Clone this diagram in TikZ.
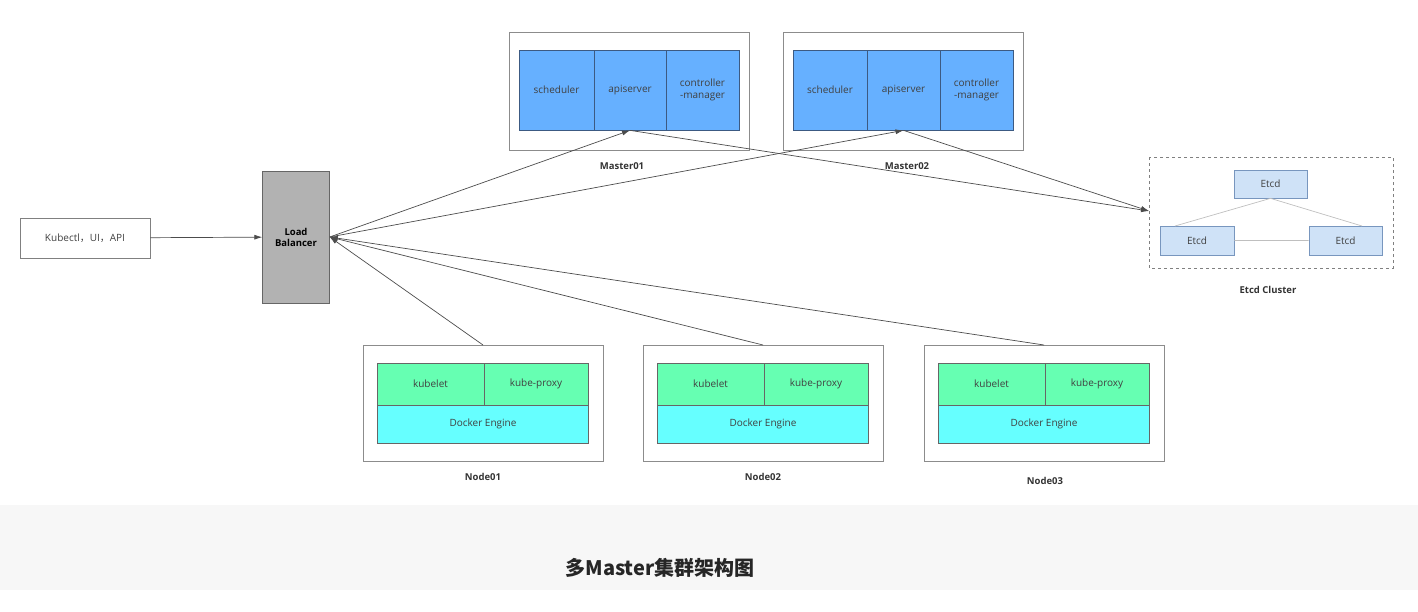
\documentclass[tikz,border=0pt]{standalone}
\usepackage{fontspec}
\setmainfont{Open Sans}
\newfontfamily\cjk{Noto Sans CJK SC}
\usetikzlibrary{arrows.meta}
\definecolor{mblue}{RGB}{102,176,255}
\definecolor{mbord}{RGB}{60,90,130}
\definecolor{ngreen}{RGB}{102,255,178}
\definecolor{ncyan}{RGB}{102,255,255}
\definecolor{efill}{RGB}{207,226,247}
\definecolor{ebord}{RGB}{120,150,190}
\begin{document}
\begin{tikzpicture}[x=1pt,y=-1pt,
  outer/.style={draw=black!45,line width=0.8pt},
  txt/.style={font=\fontsize{10}{12}\selectfont,text=black!75},
  blu/.style={txt,draw=mbord,fill=mblue,line width=0.7pt},
  grn/.style={txt,draw=black!60,fill=ngreen,line width=0.7pt},
  cya/.style={txt,draw=black!60,fill=ncyan,line width=0.7pt},
  etc/.style={txt,draw=ebord,fill=efill,line width=0.7pt},
  lbl/.style={font=\bfseries\fontsize{9.5}{11}\selectfont,text=black!80},
  arr/.style={draw=black!70,line width=0.7pt,-{Latex[length=8pt,width=5pt]}}]
\useasboundingbox (0,0) rectangle (1418,611);
\fill[black!3] (0,505) rectangle (1418,590);
% client
\node[txt,draw=black!50,line width=0.8pt,minimum width=130,minimum height=40] (k) at (85,238) {Kubectl{\cjk ，}UI{\cjk ，}API};
\node[draw=black!60,fill=black!30,minimum width=67,minimum height=132,align=center,font=\bfseries\fontsize{9.5}{11}\selectfont] (lb) at (296,237) {Load\\Balancer};
% masters
\foreach \n/\x in {1/509,2/783}{
  \draw[outer] (\x,32) rectangle +(240,118);
}
\node[blu,minimum width=75,minimum height=80] (s1) at (556.5,90) {scheduler};
\node[blu,minimum width=72,minimum height=80] (a1) at (630,90) {apiserver};
\node[blu,minimum width=73,minimum height=80,align=center] (c1) at (702.5,90) {controller\\-manager};
\node[blu,minimum width=74,minimum height=80] (s2) at (830,90) {scheduler};
\node[blu,minimum width=73,minimum height=80] (a2) at (903.5,90) {apiserver};
\node[blu,minimum width=73,minimum height=80,align=center] (c2) at (976.5,90) {controller\\-manager};
\node[lbl] (m1) at (622,166) {Master01};
\node[lbl] (m2) at (907,166) {Master02};
% etcd
\draw[draw=black!50,dashed,line width=0.8pt] (1149,157) rectangle (1393,268);
\coordinate (ec) at (1149,211);
\node[etc,minimum width=73,minimum height=28] (e1) at (1270.5,184) {Etcd};
\node[etc,minimum width=74,minimum height=29] (e2) at (1197,240.5) {Etcd};
\node[etc,minimum width=73,minimum height=29] (e3) at (1345.5,240.5) {Etcd};
\draw[black!25,line width=0.7pt] (e1.south) -- (1175,226) (e1.south) -- (1362,226) (e2) -- (e3);
\node[lbl] at (1268,290) {Etcd Cluster};
% nodes
\foreach \i/\x in {1/363,2/643,3/924}{
  \draw[outer] (\x,345) rectangle +(240,116);
  \node[grn,minimum width=107,minimum height=42] (kl\i) at (\x+67.5,384) {kubelet};
  \node[grn,minimum width=104,minimum height=42] (kp\i) at (\x+173,384) {kube-proxy};
  \node[cya,minimum width=211,minimum height=38] (d\i) at (\x+120,424) {Docker Engine};
  \coordinate (t\i) at (\x+120,345);
}
\node[lbl] at (483,477) {Node01};
\node[lbl] at (763,477) {Node02};
\node[lbl] at (1045,481) {Node03};
% arrows
\draw[arr] (k) -- (lb);
\draw[arr] (t1) -- (lb.east);
\draw[arr] (t2) -- (lb.east);
\draw[arr] (t3) -- (lb.east);
\draw[arr] (lb.east) -- (a1.south);
\draw[arr] (lb.east) -- (a2.south);
\draw[arr] (a1.south) -- (ec);
\draw[arr] (a2.south) -- (ec);
\node[font=\cjk\bfseries\fontsize{20}{22}\selectfont,text=black!85] at (660,568) {多Master集群架构图};
\end{tikzpicture}
\end{document}
